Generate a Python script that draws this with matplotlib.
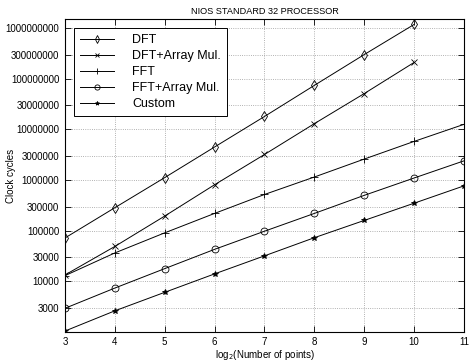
import numpy as np
import matplotlib.pyplot as plt
from matplotlib.ticker import FixedLocator, FixedFormatter, NullLocator

plt.rcParams['font.family'] = ['Liberation Sans', 'DejaVu Sans']

x_all = [3, 4, 5, 6, 7, 8, 9, 10, 11]
x_dft = [3, 4, 5, 6, 7, 8, 9, 10]

dft = [72000, 285000, 1120000, 4500000, 18000000, 74000000, 300000000, 1180000000]
dft_arr = [13400, 49000, 195000, 810000, 3200000, 13000000, 51000000, 210000000]
fft = [13000, 36500, 91000, 220000, 520000, 1150000, 2600000, 5800000, 12600000]
fft_arr = [2950, 7400, 17900, 43000, 98000, 220000, 500000, 1100000, 2400000]
custom = [1050, 2630, 6100, 14100, 32000, 73000, 160000, 350000, 770000]

yticks = [3000, 10000, 30000, 100000, 300000, 1000000, 3000000, 10000000,
          30000000, 100000000, 300000000, 1000000000]

fig = plt.figure(figsize=(4.74, 3.61), dpi=100)
ax = fig.add_axes([0.137, 0.08, 0.842, 0.867])

ax.plot(x_dft, dft, 'k-', lw=0.7, marker='d', mfc='none', ms=5, mew=0.6, label='DFT')
ax.plot(x_dft, dft_arr, 'k-', lw=0.7, marker='x', ms=4, mew=0.6, label='DFT+Array Mul.')
ax.plot(x_all, fft, 'k-', lw=0.7, marker='+', ms=6, mew=0.6, label='FFT')
ax.plot(x_all, fft_arr, 'k-', lw=0.7, marker='o', mfc='none', ms=5, mew=0.6, label='FFT+Array Mul.')
ax.plot(x_all, custom, 'k-', lw=0.7, marker='*', ms=4, mew=0.6, label='Custom')

ax.set_yscale('log')
ax.set_xlim(3, 11)
ax.set_ylim(1000, 1.5e9)
ax.yaxis.set_major_locator(FixedLocator(yticks))
ax.yaxis.set_major_formatter(FixedFormatter([str(t) for t in yticks]))
ax.yaxis.set_minor_locator(NullLocator())
ax.set_xticks(x_all)

ax.grid(True, which='major', ls=':', lw=0.6, color='#999999')
ax.tick_params(direction='in', labelsize=7, length=4, top=True, right=True, width=0.6)
ax.tick_params(axis='y', pad=4)
for s in ax.spines.values():
    s.set_linewidth(0.8)

ax.set_title('NIOS STANDARD 32 PROCESSOR', fontsize=6.6, pad=4)
ax.set_xlabel('log$_2$(Number of points)', fontsize=7, labelpad=1)
ax.set_ylabel('Clock cycles', fontsize=7)
ax.yaxis.set_label_coords(-0.122, 0.5)

leg = ax.legend(loc='upper left', fontsize=9, fancybox=False, framealpha=1,
                edgecolor='black', handlelength=2.7, borderpad=0.5,
                labelspacing=0.32, handletextpad=1.5, borderaxespad=0.7,
                markerscale=0.75)
leg.get_frame().set_linewidth(0.7)

fig.savefig('out.png', dpi=100)
